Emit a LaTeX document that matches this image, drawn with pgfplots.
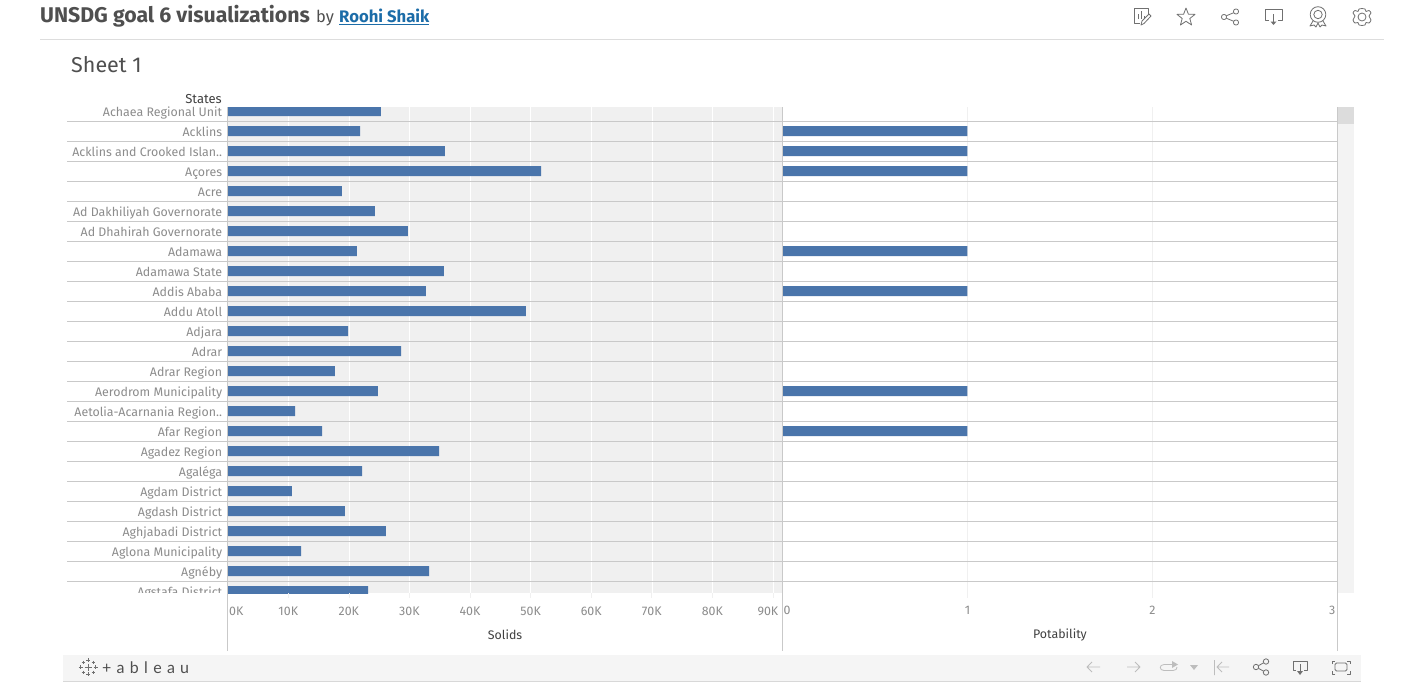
\documentclass[border=0pt]{standalone}
\usepackage{fontspec}
\usepackage{pgfplots}
\usepackage{pgfplotstable}
\pgfplotsset{compat=1.18}
\setmainfont{Fira Sans}
\newfontfamily\logofont[LetterSpace=33]{Lato}
\definecolor{barblue}{HTML}{4A75AB}
\definecolor{panegray}{HTML}{F0F0F0}
\definecolor{rowline}{HTML}{C9C9C9}
\definecolor{ticktext}{HTML}{8C8C8C}
\definecolor{darktext}{HTML}{4F4F4F}
\definecolor{linkblue}{HTML}{1B6CA8}
\definecolor{iconc}{HTML}{707070}
\definecolor{navc}{HTML}{BDBDBD}
\definecolor{scrolltrack}{HTML}{F3F3F3}
\definecolor{scrollthumb}{HTML}{DCDCDC}
\definecolor{headline}{HTML}{DDDDDD}
\definecolor{barbg}{HTML}{F5F5F5}
\definecolor{barline}{HTML}{D8D8D8}

\pgfplotstableread{
row value
0 25300
1 21840
2 35870
3 51720
4 18860
5 24310
6 29760
7 21340
8 35700
9 32730
10 49240
11 19860
12 28610
13 17710
14 24810
15 11110
16 15570
17 34880
18 22170
19 10610
20 19360
21 26130
22 12100
23 33230
24 23160
}\solidsdata
\pgfplotstableread{
row value
0 0
1 1
2 1
3 1
4 0
5 0
6 0
7 1
8 0
9 1
10 0
11 0
12 0
13 0
14 1
15 0
16 1
17 0
18 0
19 0
20 0
21 0
22 0
23 0
24 0
}\potabilitydata

\pgfplotsset{
  tabpane/.style={
    scale only axis,
    height=486pt,
    y dir=reverse,
    ymin=-0.2, ymax=24.1,
    xbar, bar shift=0pt, bar width=10pt,
    major tick length=0pt,
    axis line style={draw=none},
    xmajorgrids=true,
    scaled x ticks=false,
    ytick={0,...,24},
    extra y ticks={0.5,1.5,2.5,3.5,4.5,5.5,6.5,7.5,8.5,9.5,10.5,11.5,12.5,13.5,14.5,15.5,16.5,17.5,18.5,19.5,20.5,21.5,22.5,23.5},
    extra y tick labels={},
    extra tick style={grid=major},
    y grid style={rowline,line width=1pt},
    tick label style={text=ticktext,font=\fontsize{12.4}{14}\selectfont},
    xticklabel style={yshift=-10pt},
    x label style={at={(axis description cs:0.5,0)},anchor=center,yshift=-41.5pt,text=black!75,font=\fontsize{12.4}{14}\selectfont},
  }
}

\begin{document}
\begin{tikzpicture}
\path[use as bounding box,fill=white] (0pt,0pt) rectangle (1422pt,-688pt);

\begin{axis}[tabpane,
  at={(227.7pt,-593pt)},anchor=south west,width=554.8pt,
  xmin=0,xmax=91583,
  axis background/.style={fill=panegray},
  x grid style={white,line width=0.5pt},
  xtick={0,10000,20000,30000,40000,50000,60000,70000,80000,90000},
  xticklabels={\hspace*{17pt}0K,10K,20K,30K,40K,50K,60K,70K,80K,90K\hspace*{10pt}},
  xlabel={Solids},
  yticklabel style={anchor=base east,xshift=-2pt,yshift=-5pt},
  yticklabels={Achaea Regional Unit,Acklins,Acklins and Crooked Islan..,Açores,Acre,Ad Dakhiliyah Governorate,Ad Dhahirah Governorate,Adamawa,Adamawa State,Addis Ababa,Addu Atoll,Adjara,Adrar,Adrar Region,Aerodrom Municipality,Aetolia-Acarnania Region..,Afar Region,Agadez Region,Agaléga,Agdam District,Agdash District,Aghjabadi District,Aglona Municipality,Agnéby,Agstafa District},
]
\addplot[fill=barblue,draw=none] table[x=value,y=row] {\solidsdata};
\end{axis}

\begin{axis}[tabpane,
  at={(782.5pt,-593pt)},anchor=south west,width=554.8pt,
  xmin=0,xmax=3,
  x grid style={panegray,line width=0.8pt},
  xtick={0,1,2,3},
  xticklabels={\hspace*{9pt}0,1,2,3\hspace*{10pt}},
  xlabel={Potability},
  yticklabels={},
]
\addplot[fill=barblue,draw=none] table[x=value,y=row] {\potabilitydata};
\end{axis}

\begin{scope}[x=1pt,y=-1pt]
  % cover of the cut last row label
  \fill[white] (60,593) rectangle (226.8,600);
  % left stubs of row lines
  \foreach \k in {0,...,23} {\draw[rowline,line width=1pt] (67,121.3+20*\k) -- (228,121.3+20*\k);}
  % gridline stubs below pane
  \foreach \xx in {288.3,348.9,409.4,470,530.6,591.2,651.8,712.3,772.9,967.4,1152.3} {\draw[panegray,line width=0.8pt] (\xx,593) -- (\xx,598);}
  % vertical axis lines
  \draw[rowline,line width=1pt] (227.7,107) -- (227.7,651);
  \draw[rowline,line width=1pt] (782.5,107) -- (782.5,651);
  \draw[rowline,line width=1pt] (1337.3,107) -- (1337.3,651);
  % scrollbar
  \fill[scrolltrack] (1338,107) rectangle (1354,593);
  \fill[scrollthumb] (1338,107) rectangle (1354,124);
  % header
  \node[anchor=base west,inner sep=0,text=darktext,font=\fontsize{21.3}{24}\selectfont\bfseries] at (40,23) {UNSDG goal 6 visualizations};
  \node[anchor=base west,inner sep=0,text=darktext,font=\fontsize{16.5}{20}\selectfont] at (316,23) {by};
  \node[anchor=base west,inner sep=0,text=linkblue,font=\fontsize{16.7}{20}\selectfont\bfseries] at (339,23) {\underline{Roohi Shaik}};
  \draw[headline,line width=1pt] (40,39.5) -- (1384,39.5);
  \node[anchor=base west,inner sep=0,text=darktext,font=\fontsize{21.5}{24}\selectfont] at (71,72) {Sheet 1};
  \node[anchor=base east,inner sep=0,text=black!75,font=\fontsize{13}{14}\selectfont] at (222,103) {States};
  % bottom bar
  \fill[barbg] (63,655) rectangle (1361,681);
  \draw[barline,line width=1pt] (63,681.5) -- (1361,681.5);
  % tableau logo
  \begin{scope}[iconc,line width=0.8pt]
    \foreach \a/\b/\r in {88/667/3.5,80.5/667/2,95.5/667/2,88/660/2,88/674/2,83/662/1.5,93/662/1.5,83/672/1.5,93/672/1.5}
      {\draw (\a-\r,\b) -- (\a+\r,\b) (\a,\b-\r) -- (\a,\b+\r);}
  \end{scope}
  \node[anchor=base west,inner sep=0,text=darktext,font=\logofont\fontsize{16}{18}\selectfont] at (102,673) {+ableau};
  % top icons
  \begin{scope}[iconc,line width=0.8pt,line join=round]
    \draw (1148,14) -- (1148,8.5) -- (1134,8.5) -- (1134,23) -- (1140,23);
    \draw (1138,19) -- (1138,14) (1141,19) -- (1141,11) (1144,19) -- (1144,16);
    \draw (1141,25) -- (1142,21) -- (1149,14) -- (1151,16) -- (1144,23.5) -- cycle;
    \draw (1186,8) -- (1188.4,14.2) -- (1195,14.4) -- (1189.8,18.5) -- (1191.6,25) -- (1186,21.3) -- (1180.4,25) -- (1182.2,18.5) -- (1177,14.4) -- (1183.6,14.2) -- cycle;
    \draw (1236,11.5) circle (2.6) (1236,22.5) circle (2.6) (1224,17) circle (2.6);
    \draw (1233.7,12.7) -- (1226.3,15.8) (1233.7,21.3) -- (1226.3,18.2);
    \draw (1269,20.5) -- (1265,20.5) -- (1265,9) -- (1282,9) -- (1282,20.5) -- (1278,20.5);
    \draw (1273.5,14) -- (1273.5,23);
    \fill (1270.5,21.5) -- (1276.5,21.5) -- (1273.5,25) -- cycle;
    \draw (1318,14.5) circle (4.2) (1318,14.5) circle (7.8);
    \draw (1313,21) -- (1310,26) -- (1314,25) -- (1316,27) -- (1318,23) -- (1320,27) -- (1322,25) -- (1326,26) -- (1323,21);
    \draw (1362,17) circle (4);
    \draw plot[smooth cycle] coordinates {(1362,8.5) (1365,9) (1366,11.5) (1369,10.5) (1371,13) (1369,16) (1371,20) (1369,23) (1366,22.5) (1365,25) (1362,25.5) (1359,25) (1358,22.5) (1355,23) (1353,20) (1355,16) (1353,13) (1355,10.5) (1358,11.5) (1359,9)};
  \end{scope}
  % bottom nav icons
  \begin{scope}[navc,line width=0.8pt,line join=round]
    \draw (1087,667) -- (1100,667) (1092,662) -- (1087,667) -- (1092,672);
    \draw (1127,667) -- (1140,667) (1135,662) -- (1140,667) -- (1135,672);
    \draw (1174,664.5) -- (1164,664.5) .. controls (1159,664.5) and (1159,670.5) .. (1164,670.5) -- (1173,670.5) .. controls (1176,670.5) and (1177,669) .. (1177,667);
    \fill (1172,661) -- (1178,664.5) -- (1172,668) -- cycle;
    \fill (1190,665) -- (1198,665) -- (1194,670) -- cycle;
    \draw (1214.5,660) -- (1214.5,675) (1229,667) -- (1217,667) (1222,662) -- (1217,667) -- (1222,672);
  \end{scope}
  \begin{scope}[iconc,line width=0.8pt,line join=round]
    \draw (1266,661.5) circle (2.7) (1266,672.5) circle (2.7) (1256,667) circle (2.7);
    \draw (1263.6,662.8) -- (1258.4,665.7) (1263.6,671.2) -- (1258.4,668.3);
    \draw (1296,670) -- (1293,670) -- (1293,661) -- (1307.5,661) -- (1307.5,670) -- (1304,670);
    \draw (1300,664) -- (1300,672);
    \fill (1297,671) -- (1303,671) -- (1300,675) -- cycle;
    \draw[rounded corners=1.5pt] (1335,663) rectangle (1347,671);
    \draw (1332,664) -- (1332,661) -- (1335,661) (1347,661) -- (1350,661) -- (1350,664) (1350,671) -- (1350,674) -- (1347,674) (1335,674) -- (1332,674) -- (1332,671);
  \end{scope}
\end{scope}
\end{tikzpicture}
\end{document}
